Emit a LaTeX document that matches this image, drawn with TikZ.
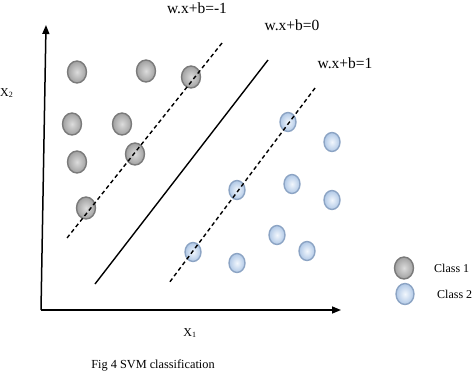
\documentclass[tikz,border=0pt]{standalone}
\usepackage{fontspec}
\setmainfont{Liberation Serif}
\usetikzlibrary{shapes.geometric,arrows.meta}
\definecolor{grayedge}{HTML}{7A7A7A}
\definecolor{grayin}{HTML}{DCDCDC}
\definecolor{grayout}{HTML}{A0A0A0}
\definecolor{blueedge}{HTML}{8CA4C4}
\definecolor{bluein}{HTML}{F2F7FD}
\definecolor{blueout}{HTML}{B0C8E6}
\tikzset{
  cone/.style={ellipse, draw=grayedge, line width=1.4pt, inner color=grayin, outer color=grayout, minimum width=19pt, minimum height=22pt, inner sep=0pt},
  ctwo/.style={ellipse, draw=blueedge, line width=1.4pt, inner color=bluein, outer color=blueout, minimum width=16pt, minimum height=19pt, inner sep=0pt},
  axis/.style={line width=1.5pt, -{Triangle[length=9pt,width=7pt]}},
  margin/.style={line width=1.4pt, dash pattern=on 4pt off 3pt},
  hyper/.style={line width=1.4pt},
  eqlabel/.style={font=\fontsize{15.5}{17}\selectfont, inner sep=0pt},
  lbl/.style={font=\fontsize{12}{14}\selectfont, inner sep=0pt}
}
\begin{document}
\begin{tikzpicture}[x=1pt,y=-1pt]
\useasboundingbox (0,0) rectangle (474,373);
% class 1
\node[cone] (g1) at (77,72) {};
\node[cone] (g2) at (146,71) {};
\node[cone] (g3) at (191,77) {};
\node[cone] (g4) at (72,124) {};
\node[cone] (g5) at (122,124) {};
\node[cone] (g6) at (135,154) {};
\node[cone] (g7) at (77,162) {};
\node[cone] (g8) at (86,208) {};
% class 2
\node[ctwo] (b1) at (288,122) {};
\node[ctwo] (b2) at (332,142) {};
\node[ctwo] (b3) at (237,190) {};
\node[ctwo] (b4) at (292,184) {};
\node[ctwo] (b5) at (332,200) {};
\node[ctwo] (b6) at (277,235) {};
\node[ctwo] (b7) at (307,251) {};
\node[ctwo] (b8) at (237,263) {};
\node[ctwo] (b9) at (193,252) {};
% axes
\coordinate (o) at (41,310);
\coordinate (ytip) at (46,25);
\coordinate (xtip) at (341,310);
\draw[axis] (o) -- (ytip);
\draw[axis] (o) -- (xtip);
% hyperplanes
\coordinate (m1a) at (222,43);
\coordinate (m1b) at (67,238);
\coordinate (h0a) at (268,60);
\coordinate (h0b) at (95,284);
\coordinate (m2a) at (315,88);
\coordinate (m2b) at (169,283);
\draw[margin] (m1a) -- (m1b);
\draw[hyper] (h0a) -- (h0b);
\draw[margin] (m2a) -- (m2b);
% labels
\node[eqlabel] (lm1) at (197,8) {w.x+b=-1};
\node[eqlabel] (l0) at (292,25) {w.x+b=0};
\node[eqlabel] (l1) at (345,63) {w.x+b=1};
\node[lbl, anchor=west] (x2) at (0,93) {X\textsubscript{2}};
\node[lbl] (x1) at (190,333) {X\textsubscript{1}};
\node[lbl, font=\fontsize{12.3}{14}\selectfont] (cap) at (153,365) {Fig 4 SVM classification};
% legend
\node[cone] (lg1) at (404,268) {};
\node[ctwo, minimum width=18pt, minimum height=21pt] (lg2) at (405,294) {};
\node[lbl, anchor=west] (c1) at (434,268) {Class 1};
\node[lbl, anchor=west] (c2) at (437,294) {Class 2};
\end{tikzpicture}
\end{document}
